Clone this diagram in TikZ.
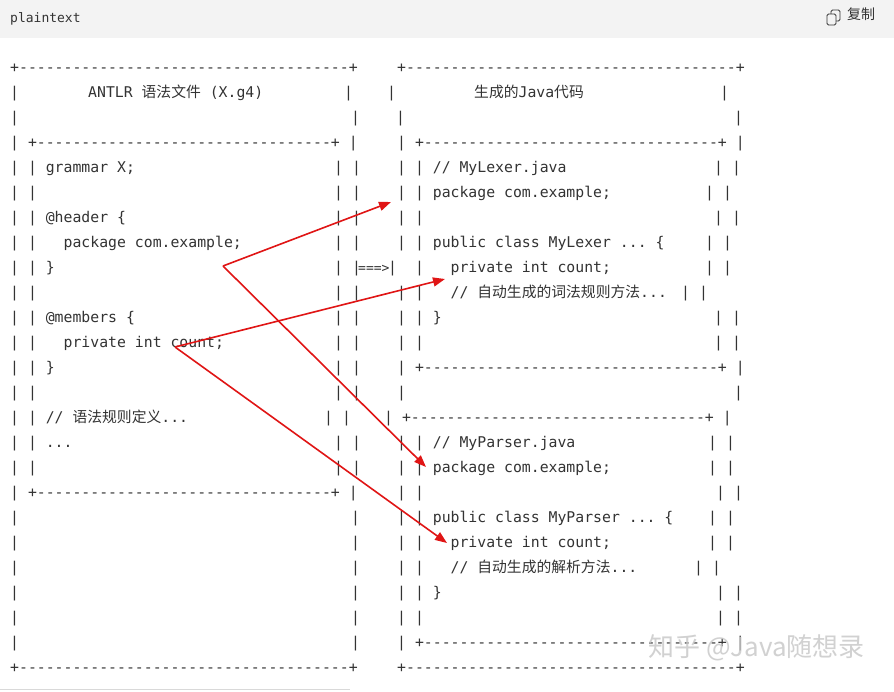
\documentclass[tikz,border=0pt]{standalone}
\usepackage{fontspec}
\usetikzlibrary{arrows.meta}
\newfontfamily\monof{DejaVu Sans Mono}
\newfontfamily\cjk{Noto Sans CJK SC}
\definecolor{ink}{HTML}{333333}
\definecolor{arrred}{HTML}{E01515}
\definecolor{bar}{HTML}{F3F3F3}
\newcommand\dsh[1]{\foreach\i in {1,...,#1}{-}}
\newcommand\outbx{+\dsh{37}+}
\newcommand\inbx{|~+\dsh{33}+~|}
\begin{document}
\begin{tikzpicture}[x=1pt,y=-1pt,
  txt/.style={anchor=mid west,inner sep=0,yshift=-3pt,font=\monof\fontsize{14.8}{15}\selectfont,text=ink},
  arr/.style={draw=arrred,line width=1.6pt,-{Triangle[length=12pt,width=9pt]}}]
\useasboundingbox (0,0) rectangle (894,691);
\fill[white] (0,0) rectangle (894,691);
\fill[bar] (0,0) rectangle (894,38);
\node[txt,font=\monof\fontsize{13}{14}\selectfont] (hdr) at (10,17) {plaintext};
\draw[ink,line width=0.9pt,rounded corners=1.5pt] (831,10) rectangle (840,21);
\draw[ink,line width=0.9pt,rounded corners=1.5pt,fill=bar] (827,14) rectangle (836,25);
\node[anchor=mid west,inner sep=0,font=\cjk\fontsize{14}{15}\selectfont,text=ink] (copy) at (847,17) {复制};
\draw[gray!30] (0,689) -- (350,689);
% row 1
\node[txt] at (10,67) {\outbx};
\node[txt] at (397,67) {\outbx};
% row 2
\node[txt] at (10,92) {|};
\node[txt] at (88,92) {ANTLR {\cjk 语法文件} (X.g4)};
\node[txt] at (344,92) {|};
\node[txt] at (387,92) {|};
\node[txt] at (474,92) {{\cjk 生成的}Java{\cjk 代码}};
\node[txt] at (720,92) {|};
% row 3
\node[txt] at (10,117) {|}; \node[txt] at (351,117) {|};
\node[txt] at (396,117) {|}; \node[txt] at (734,117) {|};
% row 4
\node[txt] at (10,142) {\inbx};
\node[txt] at (397,142) {\inbx};
% row 5
\node[txt] at (10,167) {|~|~grammar~X;}; \node[txt] at (334,167) {|~|};
\node[txt] at (397,167) {|~|~//~MyLexer.java}; \node[txt] at (714,167) {|~|};
% row 6
\node[txt] at (10,192) {|~|}; \node[txt] at (334,192) {|~|};
\node[txt] at (397,192) {|~|~package~com.example;}; \node[txt] at (705,192) {|~|};
% row 7
\node[txt] at (10,217) {|~|~@header~\{}; \node[txt] at (334,217) {|~|};
\node[txt] at (397,217) {|~|}; \node[txt] at (714,217) {|~|};
% row 8
\node[txt] at (10,242) {|~|~~~package~com.example;}; \node[txt] at (334,242) {|~|};
\node[txt] at (397,242) {|~|~public~class~MyLexer~...~\{}; \node[txt] at (705,242) {|~|};
% row 9
\node[txt] at (10,267) {|~|~\}}; \node[txt] at (334,267) {|~|};
\node[txt,font=\monof\fontsize{13}{15}\selectfont] at (358,267) {===>};
\node[txt] at (388,267) {|};
\node[txt] at (397,267) {~~|~~~private~int~count;}; \node[txt] at (705,267) {|~|};
% row 10
\node[txt] at (10,292) {|~|}; \node[txt] at (334,292) {|~|};
\node[txt] at (397,292) {|~|~~~//~{\cjk 自动生成的词法规则方法}...}; \node[txt] at (681,292) {|~|};
% row 11
\node[txt] at (10,317) {|~|~@members~\{}; \node[txt] at (334,317) {|~|};
\node[txt] at (397,317) {|~|~\}}; \node[txt] at (714,317) {|~|};
% row 12
\node[txt] at (10,342) {|~|~~~private~int~count;}; \node[txt] at (334,342) {|~|};
\node[txt] at (397,342) {|~|}; \node[txt] at (714,342) {|~|};
% row 13
\node[txt] at (10,367) {|~|~\}}; \node[txt] at (334,367) {|~|};
\node[txt] at (397,367) {\inbx};
% row 14
\node[txt] at (10,392) {|~|}; \node[txt] at (334,392) {|~|};
\node[txt] at (397,392) {|}; \node[txt] at (734,392) {|};
% row 15
\node[txt] at (10,417) {|~|~//~{\cjk 语法规则定义}...}; \node[txt] at (324,417) {|~|};
\node[txt] at (384,417) {\inbx};
% row 16
\node[txt] at (10,442) {|~|~...}; \node[txt] at (334,442) {|~|};
\node[txt] at (397,442) {|~|~//~MyParser.java}; \node[txt] at (708,442) {|~|};
% row 17
\node[txt] at (10,467) {|~|}; \node[txt] at (334,467) {|~|};
\node[txt] at (397,467) {|~|~package~com.example;}; \node[txt] at (708,467) {|~|};
% row 18
\node[txt] at (10,492) {\inbx};
\node[txt] at (397,492) {|~|}; \node[txt] at (716,492) {|~|};
% row 19
\node[txt] at (10,517) {|}; \node[txt] at (351,517) {|};
\node[txt] at (397,517) {|~|~public~class~MyParser~...~\{}; \node[txt] at (708,517) {|~|};
% row 20
\node[txt] at (10,542) {|}; \node[txt] at (351,542) {|};
\node[txt] at (397,542) {|~|~~~private~int~count;}; \node[txt] at (708,542) {|~|};
% row 21
\node[txt] at (10,567) {|}; \node[txt] at (351,567) {|};
\node[txt] at (397,567) {|~|~~~//~{\cjk 自动生成的解析方法}...}; \node[txt] at (694,567) {|~|};
% row 22
\node[txt] at (10,592) {|}; \node[txt] at (351,592) {|};
\node[txt] at (397,592) {|~|~\}}; \node[txt] at (716,592) {|~|};
% row 23
\node[txt] at (10,617) {|}; \node[txt] at (351,617) {|};
\node[txt] at (397,617) {|~|}; \node[txt] at (716,617) {|~|};
% row 24
\node[txt] at (10,642) {|}; \node[txt] at (351,642) {|};
\node[txt] at (397,642) {\inbx};
% row 25
\node[txt] at (10,667) {\outbx};
\node[txt] at (397,667) {\outbx};
% watermark
\node[anchor=mid west,inner sep=0,font=\cjk\fontsize{26}{28}\selectfont,text=gray!45,opacity=0.8] (wm) at (648,654) {知乎 @Java随想录};
% arrows
\coordinate (s1) at (223,266);
\coordinate (s2) at (175,347);
\coordinate (t1) at (391,202);
\coordinate (t2) at (426,467);
\coordinate (t3) at (445,279);
\coordinate (t4) at (447,543);
\draw[arr] (s1) -- (t1);
\draw[arr] (s1) -- (t2);
\draw[arr] (s2) -- (t3);
\draw[arr] (s2) -- (t4);
\end{tikzpicture}
\end{document}
